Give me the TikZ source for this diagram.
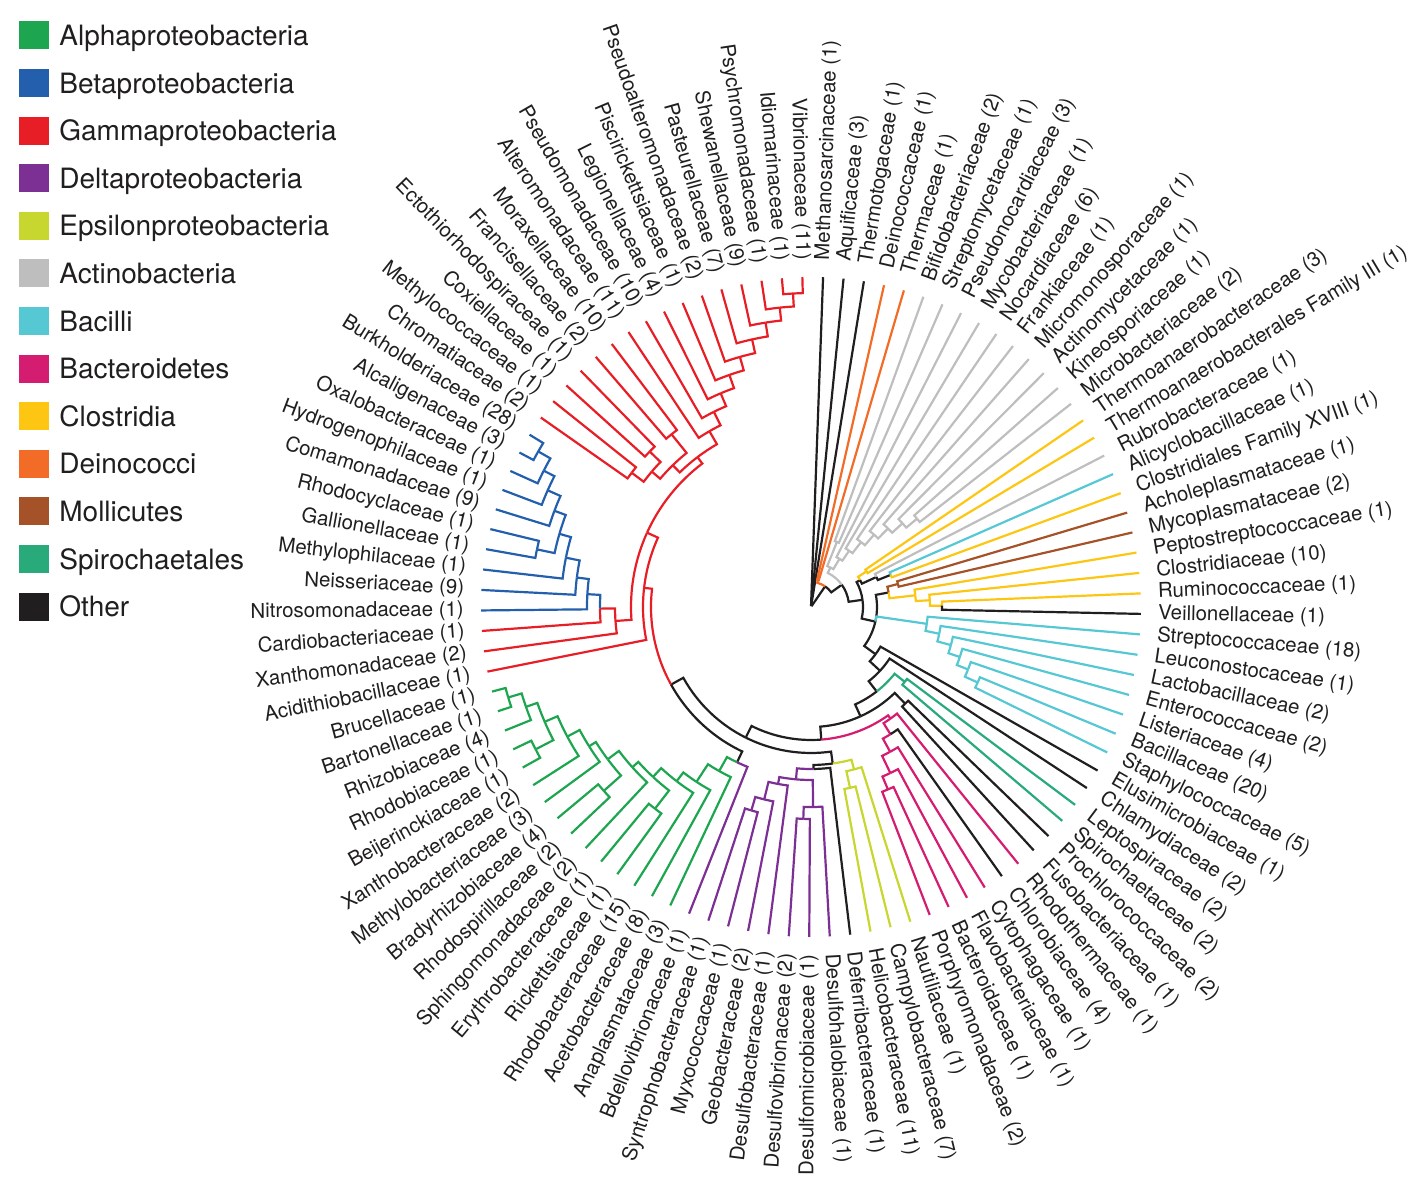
\documentclass[tikz,border=0pt]{standalone}
\usepackage{fontspec}
\setmainfont{TeX Gyre Heros}
\definecolor{cA}{RGB}{30,165,80}
\definecolor{cB}{RGB}{35,95,172}
\definecolor{cG}{RGB}{232,30,38}
\definecolor{cD}{RGB}{125,48,148}
\definecolor{cE}{RGB}{200,214,48}
\definecolor{cAc}{RGB}{190,190,190}
\definecolor{cBa}{RGB}{85,200,212}
\definecolor{cBd}{RGB}{212,28,112}
\definecolor{cCl}{RGB}{252,198,18}
\definecolor{cDe}{RGB}{242,108,40}
\definecolor{cMo}{RGB}{165,82,40}
\definecolor{cSp}{RGB}{40,170,122}
\definecolor{cO}{RGB}{32,30,30}
\pgfmathdeclarefunction{leafang}{1}{\pgfmathparse{87.9-(#1-1)*3.564}}
\newcommand\Br[5]{%
  \pgfmathsetmacro\brA{leafang(#2)}%
  \pgfmathsetmacro\brB{leafang(#3)}%
  \pgfmathsetmacro\brR{0.5*#4}%
  \pgfmathsetmacro\brS{0.5*#5}%
  \draw[br,#1] (\brA:\brR pt) arc[start angle=\brA, end angle=\brB, radius=\brR pt] -- (\brB:\brS pt);}
\newcommand\Lf[4]{\Br{#1}{#2}{#3}{#4}{330}}
\newcommand\Lab[2]{%
  \pgfmathsetmacro\labT{leafang(#1)}%
  \ifdim\labT pt>-90pt\relax
    \node[lab,anchor=mid west,rotate=\labT] (l#1) at (\labT:173.5pt) {#2};%
  \else
    \pgfmathsetmacro\labU{\labT+180}%
    \node[lab,anchor=mid east,rotate=\labU] (l#1) at (\labT:173.5pt) {#2};%
  \fi}
\tikzset{br/.style={line width=1.1pt,line join=miter},
  lab/.style={inner sep=0pt,font=\fontsize{10.2}{12}\selectfont,text=cO}}
\begin{document}
\begin{tikzpicture}
\useasboundingbox (-405.5pt,-288pt) rectangle (301.5pt,303.5pt);
% root
\Lf{cO}{5.525}{1}{2}
\Lf{cO}{5.525}{2}{2}
\Lf{cO}{5.525}{3}{2}
\Br{cO}{5.525}{10.05}{2}{25}
\Br{cDe}{10.05}{4.5}{25}{28}
\Br{cO}{10.05}{15.6}{25}{38}
\Lf{cDe}{4.5}{4}{28}
\Lf{cDe}{4.5}{5}{28}
% actinobacteria
\Br{cAc}{15.6}{7.746}{38}{44}
\Br{cO}{15.6}{23.44}{38}{52}
\Br{cAc}{7.746}{6.5}{44}{70}
\Br{cAc}{7.746}{8.992}{44}{56}
\Lf{cAc}{6.5}{6}{70}
\Lf{cAc}{6.5}{7}{70}
\Lf{cAc}{8.992}{8}{56}
\Br{cAc}{8.992}{9.984}{56}{68}
\Lf{cAc}{9.984}{9}{68}
\Br{cAc}{9.984}{10.969}{68}{82}
\Lf{cAc}{10.969}{10}{82}
\Br{cAc}{10.969}{11.9375}{82}{96}
\Lf{cAc}{11.9375}{11}{96}
\Br{cAc}{11.9375}{12.875}{96}{110}
\Lf{cAc}{12.875}{12}{110}
\Br{cAc}{12.875}{13.75}{110}{124}
\Lf{cAc}{13.75}{13}{124}
\Br{cAc}{13.75}{14.5}{124}{138}
\Lf{cAc}{14.5}{14}{138}
\Lf{cAc}{14.5}{15}{138}
% mixed
\Br{cO}{23.44}{17.625}{52}{56}
\Br{cO}{23.44}{29.26}{52}{66}
\Br{cCl}{17.625}{16.5}{56}{66}
\Br{cO}{17.625}{18.75}{56}{72}
\Lf{cCl}{16.5}{16}{66}
\Lf{cCl}{16.5}{17}{66}
\Lf{cAc}{18.75}{18}{72}
\Br{cO}{18.75}{19.5}{72}{86}
\Lf{cBa}{19.5}{19}{86}
\Lf{cCl}{19.5}{20}{86}
% firmicutes
\Br{cO}{29.26}{22.69}{66}{79}
\Br{cBa}{29.26}{27.984}{66}{117}
\Br{cO}{29.26}{35.82}{66}{80}
\Br{cMo}{22.69}{21.5}{79}{90}
\Br{cCl}{22.69}{23.875}{79}{105}
\Lf{cMo}{21.5}{21}{90}
\Lf{cMo}{21.5}{22}{90}
\Lf{cCl}{23.875}{23}{105}
\Br{cCl}{23.875}{24.75}{105}{119}
\Lf{cCl}{24.75}{24}{119}
\Br{cCl}{24.75}{25.5}{119}{131}
\Lf{cCl}{25.5}{25}{131}
\Lf{cO}{25.5}{26}{131}
\Lf{cBa}{27.984}{27}{117}
\Br{cBa}{27.984}{28.969}{117}{131}
\Lf{cBa}{28.969}{28}{131}
\Br{cBa}{28.969}{29.9375}{131}{145}
\Lf{cBa}{29.9375}{29}{145}
\Br{cBa}{29.9375}{30.875}{145}{157}
\Lf{cBa}{30.875}{30}{157}
\Br{cBa}{30.875}{31.75}{157}{169}
\Lf{cBa}{31.75}{31}{169}
\Br{cBa}{31.75}{32.5}{169}{183}
\Lf{cBa}{32.5}{32}{183}
\Lf{cBa}{32.5}{33}{183}
% lower right
\Lf{cO}{35.82}{34}{80}
\Br{cO}{35.82}{37.65}{80}{94}
\Lf{cO}{37.65}{35}{94}
\Br{cO}{37.65}{40.29}{94}{107}
\Br{cSp}{40.29}{36.5}{107}{120}
\Br{cO}{40.29}{44.08}{107}{120}
\Lf{cSp}{36.5}{36}{120}
\Lf{cSp}{36.5}{37}{120}
\Br{cO}{44.08}{38.5}{120}{135}
\Br{cO}{44.08}{49.67}{120}{133}
\Lf{cO}{38.5}{38}{135}
\Lf{cO}{38.5}{39}{135}
% bacteroidetes
\Br{cBd}{49.67}{40.97}{133}{137}
\Br{cO}{49.67}{58.37}{133}{146}
\Lf{cBd}{40.97}{40}{137}
\Br{cBd}{40.97}{41.94}{137}{150}
\Lf{cO}{41.94}{41}{150}
\Br{cBd}{41.94}{42.875}{150}{165}
\Lf{cBd}{42.875}{42}{165}
\Br{cBd}{42.875}{43.75}{165}{184}
\Lf{cBd}{43.75}{43}{184}
\Br{cBd}{43.75}{44.5}{184}{198}
\Lf{cBd}{44.5}{44}{198}
\Lf{cBd}{44.5}{45}{198}
% epsilon, delta
\Br{cO}{58.37}{48.7}{146}{158}
\Br{cO}{58.37}{68.03}{146}{160}
\Br{cE}{48.7}{46.75}{158}{168}
\Br{cO}{48.7}{50.66}{158}{162}
\Lf{cE}{46.75}{46}{168}
\Br{cE}{46.75}{47.5}{168}{185}
\Lf{cE}{47.5}{47}{185}
\Lf{cE}{47.5}{48}{185}
\Lf{cO}{50.66}{49}{162}
\Br{cD}{50.66}{52.31}{162}{173}
\Br{cD}{52.31}{50.75}{173}{200}
\Br{cD}{52.31}{53.875}{173}{180}
\Lf{cD}{50.75}{50}{200}
\Br{cD}{50.75}{51.5}{200}{212}
\Lf{cD}{51.5}{51}{212}
\Lf{cD}{51.5}{52}{212}
\Lf{cD}{53.875}{53}{180}
\Br{cD}{53.875}{54.75}{180}{198}
\Lf{cD}{54.75}{54}{198}
\Br{cD}{54.75}{55.5}{198}{212}
\Lf{cD}{55.5}{55}{212}
\Lf{cD}{55.5}{56}{212}
% alpha
\Br{cO}{68.03}{58.06}{160}{172}
\Br{cG}{68.03}{78.005}{160}{168}
\Lf{cD}{58.06}{57}{172}
\Br{cA}{58.06}{59.12}{172}{188}
\Lf{cA}{59.12}{58}{188}
\Br{cA}{59.12}{60.239}{188}{209}
\Lf{cA}{60.239}{59}{209}
\Br{cA}{60.239}{61.479}{209}{220}
\Lf{cA}{61.479}{60}{220}
\Br{cA}{61.479}{62.957}{220}{232}
\Br{cA}{62.957}{61.5}{232}{255}
\Br{cA}{62.957}{64.414}{232}{240}
\Lf{cA}{61.5}{61}{255}
\Lf{cA}{61.5}{62}{255}
\Lf{cA}{64.414}{63}{240}
\Br{cA}{64.414}{65.83}{240}{254}
\Br{cA}{65.83}{64.5}{254}{277}
\Br{cA}{65.83}{67.156}{254}{262}
\Lf{cA}{64.5}{64}{277}
\Lf{cA}{64.5}{65}{277}
\Lf{cA}{67.156}{66}{262}
\Br{cA}{67.156}{68.3125}{262}{276}
\Lf{cA}{68.3125}{67}{276}
\Br{cA}{68.3125}{69.625}{276}{290}
\Br{cA}{69.625}{68.5}{290}{310}
\Br{cA}{69.625}{70.75}{290}{302}
\Lf{cA}{68.5}{68}{310}
\Lf{cA}{68.5}{69}{310}
\Lf{cA}{70.75}{70}{302}
\Br{cA}{70.75}{71.5}{302}{316}
\Lf{cA}{71.5}{71}{316}
\Lf{cA}{71.5}{72}{316}
% gamma / beta
\Lf{cG}{78.005}{73}{168}
\Br{cG}{78.005}{83.01}{168}{180}
\Br{cG}{83.01}{75.02}{180}{196}
\Br{cG}{83.01}{91}{180}{188}
\Lf{cG}{75.02}{74}{196}
\Br{cG}{75.02}{76.045}{196}{211}
\Lf{cG}{76.045}{75}{211}
\Br{cB}{76.045}{77.09}{211}{224}
\Lf{cB}{77.09}{76}{224}
\Br{cB}{77.09}{78.18}{224}{236}
\Lf{cB}{78.18}{77}{236}
\Br{cB}{78.18}{79.36}{236}{250}
\Lf{cB}{79.36}{78}{250}
\Br{cB}{79.36}{80.72}{250}{262}
\Br{cB}{80.72}{79.5}{262}{280}
\Br{cB}{80.72}{81.9375}{262}{274}
\Lf{cB}{79.5}{79}{280}
\Lf{cB}{79.5}{80}{280}
\Lf{cB}{81.9375}{81}{274}
\Br{cB}{81.9375}{82.875}{274}{288}
\Lf{cB}{82.875}{82}{288}
\Br{cB}{82.875}{83.75}{288}{300}
\Lf{cB}{83.75}{83}{300}
\Br{cB}{83.75}{84.5}{300}{314}
\Lf{cB}{84.5}{84}{314}
\Lf{cB}{84.5}{85}{314}
\Br{cG}{91}{89}{188}{198}
\Br{cG}{91}{92.998}{188}{203}
\Br{cG}{89}{87.5}{198}{209}
\Br{cG}{89}{90.5}{198}{222}
\Br{cG}{87.5}{86.5}{209}{224}
\Br{cG}{87.5}{88.5}{209}{224}
\Lf{cG}{86.5}{86}{224}
\Lf{cG}{86.5}{87}{224}
\Lf{cG}{88.5}{88}{224}
\Lf{cG}{88.5}{89}{224}
\Lf{cG}{90.5}{90}{222}
\Lf{cG}{90.5}{91}{222}
\Lf{cG}{92.998}{92}{203}
\Br{cG}{92.998}{93.996}{203}{218}
\Lf{cG}{93.996}{93}{218}
\Br{cG}{93.996}{94.992}{218}{232}
\Lf{cG}{94.992}{94}{232}
\Br{cG}{94.992}{95.984}{232}{246}
\Lf{cG}{95.984}{95}{246}
\Br{cG}{95.984}{96.969}{246}{260}
\Lf{cG}{96.969}{96}{260}
\Br{cG}{96.969}{97.9375}{260}{274}
\Lf{cG}{97.9375}{97}{274}
\Br{cG}{97.9375}{98.875}{274}{288}
\Lf{cG}{98.875}{98}{288}
\Br{cG}{98.875}{99.75}{288}{301}
\Lf{cG}{99.75}{99}{301}
\Br{cG}{99.75}{100.5}{301}{314}
\Lf{cG}{100.5}{100}{314}
\Lf{cG}{100.5}{101}{314}
% labels
\Lab{1}{Methanosarcinaceae (1)}
\Lab{2}{Aquificaceae (3)}
\Lab{3}{Thermotogaceae (1)}
\Lab{4}{Deinococcaceae (1)}
\Lab{5}{Thermaceae (1)}
\Lab{6}{Bifidobacteriaceae (2)}
\Lab{7}{Streptomycetaceae (1)}
\Lab{8}{Pseudonocardiaceae (3)}
\Lab{9}{Mycobacteriaceae (1)}
\Lab{10}{Nocardiaceae (6)}
\Lab{11}{Frankiaceae (1)}
\Lab{12}{Micromonosporaceae (1)}
\Lab{13}{Actinomycetaceae (1)}
\Lab{14}{Kineosporiaceae (1)}
\Lab{15}{Microbacteriaceae (2)}
\Lab{16}{Thermoanaerobacteraceae (3)}
\Lab{17}{Thermoanaerobacterales Family III (1)}
\Lab{18}{Rubrobacteraceae (1)}
\Lab{19}{Alicyclobacillaceae (1)}
\Lab{20}{Clostridiales Family XVIII (1)}
\Lab{21}{Acholeplasmataceae (1)}
\Lab{22}{Mycoplasmataceae (2)}
\Lab{23}{Peptostreptococcaceae (1)}
\Lab{24}{Clostridiaceae (10)}
\Lab{25}{Ruminococcaceae (1)}
\Lab{26}{Veillonellaceae (1)}
\Lab{27}{Streptococcaceae (18)}
\Lab{28}{Leuconostocaceae (1)}
\Lab{29}{Lactobacillaceae (2)}
\Lab{30}{Enterococcaceae (2)}
\Lab{31}{Listeriaceae (4)}
\Lab{32}{Bacillaceae (20)}
\Lab{33}{Staphylococcaceae (5)}
\Lab{34}{Elusimicrobiaceae (1)}
\Lab{35}{Chlamydiaceae (2)}
\Lab{36}{Leptospiraceae (2)}
\Lab{37}{Spirochaetaceae (2)}
\Lab{38}{Prochlorococcaceae (2)}
\Lab{39}{Fusobacteriaceae (1)}
\Lab{40}{Rhodothermaceae (1)}
\Lab{41}{Chlorobiaceae (4)}
\Lab{42}{Cytophagaceae (1)}
\Lab{43}{Flavobacteriaceae (1)}
\Lab{44}{Bacteroidaceae (1)}
\Lab{45}{Porphyromonadaceae (2)}
\Lab{46}{Nautiliaceae (1)}
\Lab{47}{Campylobacteraceae (7)}
\Lab{48}{Helicobacteraceae (11)}
\Lab{49}{Deferribacteraceae (1)}
\Lab{50}{Desulfohalobiaceae (1)}
\Lab{51}{Desulfomicrobiaceae (1)}
\Lab{52}{Desulfovibrionaceae (2)}
\Lab{53}{Desulfobacteraceae (1)}
\Lab{54}{Geobacteraceae (2)}
\Lab{55}{Myxococcaceae (1)}
\Lab{56}{Syntrophobacteraceae (1)}
\Lab{57}{Bdellovibrionaceae (1)}
\Lab{58}{Anaplasmataceae (3)}
\Lab{59}{Acetobacteraceae (8)}
\Lab{60}{Rhodobacteraceae (15)}
\Lab{61}{Rickettsiaceae (1)}
\Lab{62}{Erythrobacteraceae (1)}
\Lab{63}{Sphingomonadaceae (2)}
\Lab{64}{Rhodospirillaceae (2)}
\Lab{65}{Bradyrhizobiaceae (4)}
\Lab{66}{Methylobacteriaceae (3)}
\Lab{67}{Xanthobacteraceae (2)}
\Lab{68}{Beijerinckiaceae (1)}
\Lab{69}{Rhodobiaceae (1)}
\Lab{70}{Rhizobiaceae (4)}
\Lab{71}{Bartonellaceae (1)}
\Lab{72}{Brucellaceae (1)}
\Lab{73}{Acidithiobacillaceae (1)}
\Lab{74}{Xanthomonadaceae (2)}
\Lab{75}{Cardiobacteriaceae (1)}
\Lab{76}{Nitrosomonadaceae (1)}
\Lab{77}{Neisseriaceae (9)}
\Lab{78}{Methylophilaceae (1)}
\Lab{79}{Gallionellaceae (1)}
\Lab{80}{Rhodocyclaceae (1)}
\Lab{81}{Comamonadaceae (9)}
\Lab{82}{Hydrogenophilaceae (1)}
\Lab{83}{Oxalobacteraceae (1)}
\Lab{84}{Alcaligenaceae (3)}
\Lab{85}{Burkholderiaceae (28)}
\Lab{86}{Chromatiaceae (2)}
\Lab{87}{Methylococcaceae (1)}
\Lab{88}{Coxiellaceae (1)}
\Lab{89}{Ectothiorhodospiraceae (1)}
\Lab{90}{Francisellaceae (2)}
\Lab{91}{Moraxellaceae (10)}
\Lab{92}{Alteromonadaceae (11)}
\Lab{93}{Pseudomonadaceae (10)}
\Lab{94}{Legionellaceae (4)}
\Lab{95}{Piscirickettsiaceae (1)}
\Lab{96}{Pseudoalteromonadaceae (2)}
\Lab{97}{Pasteurellaceae (7)}
\Lab{98}{Shewanellaceae (9)}
\Lab{99}{Psychromonadaceae (1)}
\Lab{100}{Idiomarinaceae (1)}
\Lab{101}{Vibrionaceae (11)}
% legend
\foreach \c/\t [count=\i from 0] in {cA/Alphaproteobacteria,cB/Betaproteobacteria,cG/Gammaproteobacteria,cD/Deltaproteobacteria,cE/Epsilonproteobacteria,cAc/Actinobacteria,cBa/Bacilli,cBd/Bacteroidetes,cCl/Clostridia,cDe/Deinococci,cMo/Mollicutes,cSp/Spirochaetales,cO/Other}{
  \pgfmathsetmacro\yy{285.75-23.8*\i}
  \node[fill=\c,minimum width=15pt,minimum height=14pt,inner sep=0pt] (sq\i) at (-388.5pt,\yy pt) {};
  \node[anchor=base west,inner sep=0pt,font=\fontsize{14}{16}\selectfont,text=cO] (leg\i) at (-376pt,\yy pt-5pt) {\t};
}
\end{tikzpicture}
\end{document}
